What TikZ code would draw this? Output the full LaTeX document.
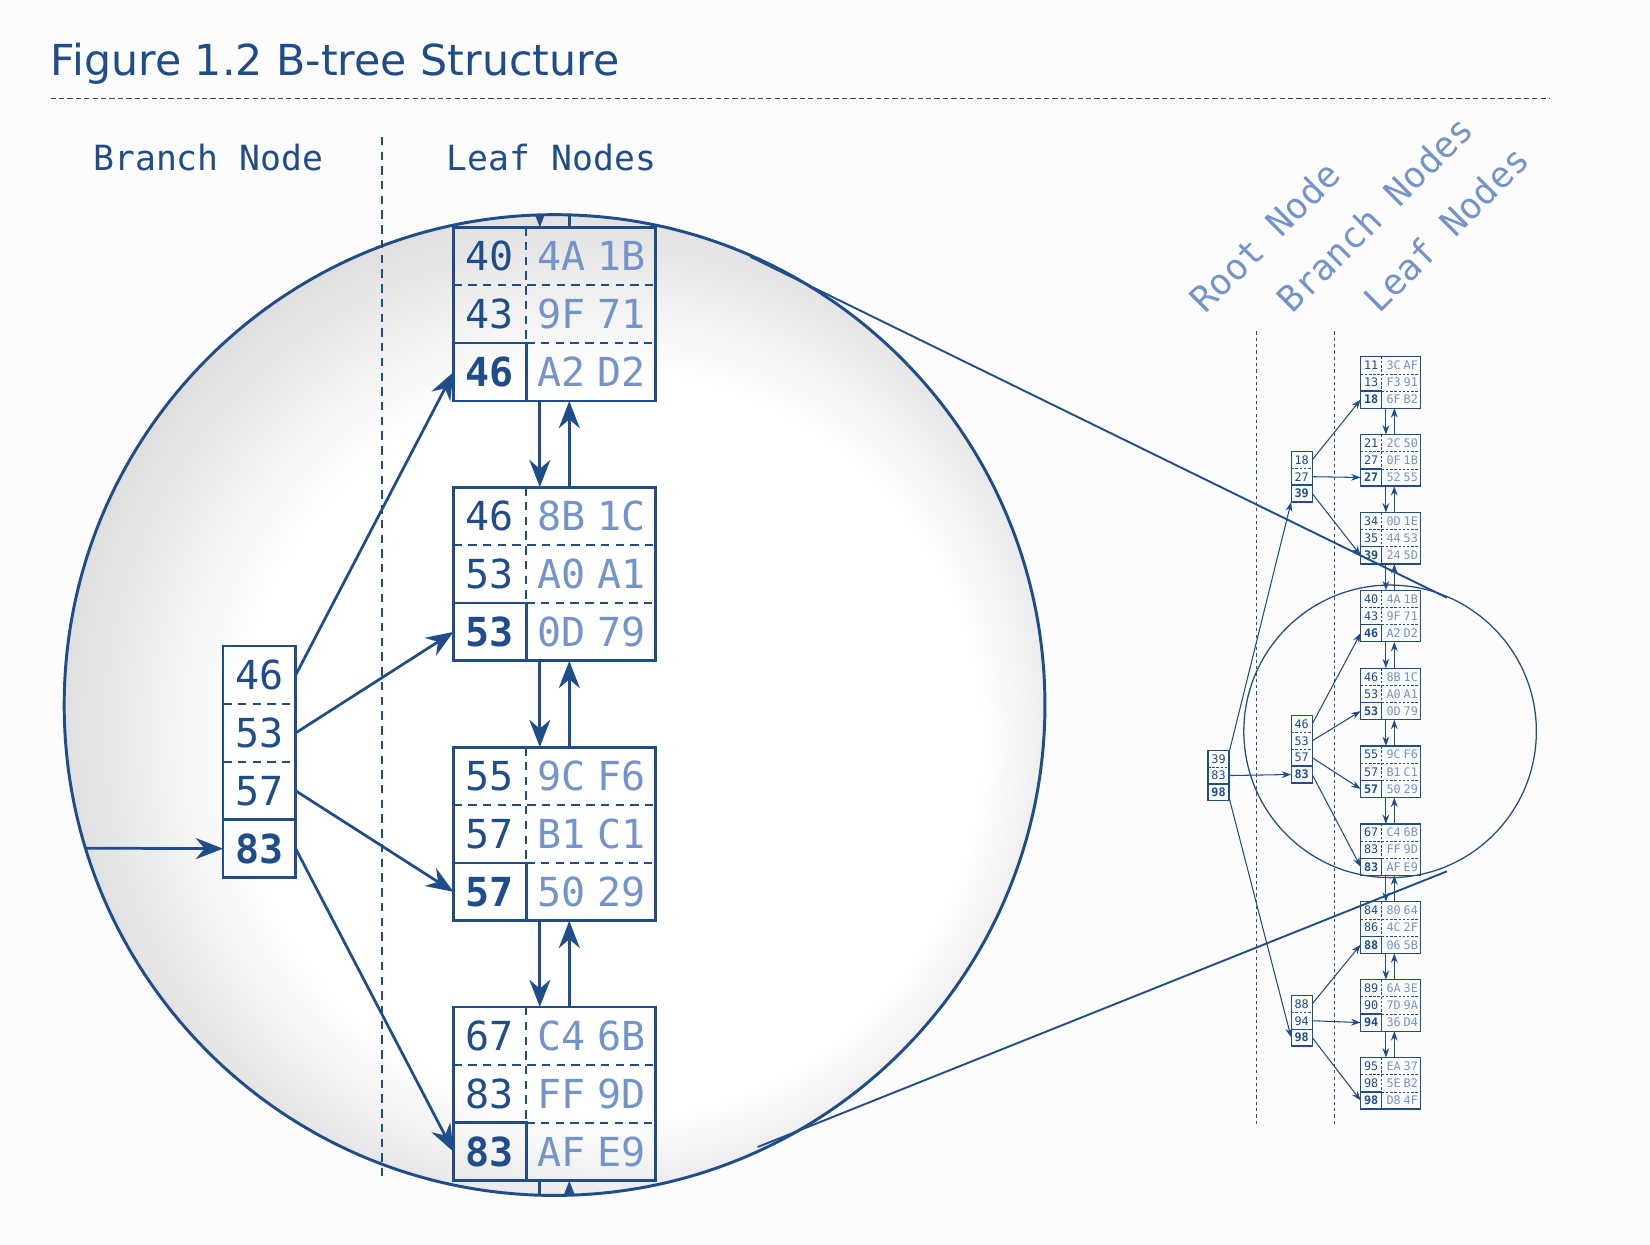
\documentclass[tikz,border=0pt]{standalone}
\usepackage{fontspec}
\setmainfont{DejaVu Sans}
\newfontfamily\mono{DejaVu Sans Mono}
\usetikzlibrary{arrows.meta,calc}
\definecolor{dk}{HTML}{1F4C8A}
\definecolor{lt}{HTML}{7393CB}
\definecolor{bg}{HTML}{FCFCFD}
\pgfdeclareradialshading{lens}{\pgfpoint{7bp}{-5bp}}{color(0bp)=(white);color(19bp)=(white);color(32bp)=(black!22)}
\newcommand\kf{}\newcommand\vf{}\newcommand\lw{}\newcommand\sw{}\newcommand\nb{}
\begin{document}
\begin{tikzpicture}[x=0.5pt,y=-0.5pt,
  key/.style={text=dk,inner sep=0pt,font=\kf},
  bkey/.style={text=dk,inner sep=0pt,font=\kf\bfseries},
  val/.style={text=lt,inner sep=0pt,font=\vf},
  sepd/.style={dash pattern=on 4pt off 3pt},
]
\fill[bg] (0,0) rectangle (1568,1183);
\useasboundingbox (0,0) rectangle (1568,1183);
\def\leaf#1#2#3#4#5#6#7#8#9{%
 \draw[line width=\lw] (#2,#3) rectangle (#2+\tw,#3+3*\rh);
 \draw[line width=\sw,sepd] (#2+\cw,#3) -- (#2+\cw,#3+2*\rh);
 \draw[line width=\sw,sepd] (#2,#3+\rh) -- (#2+\tw,#3+\rh);
 \draw[line width=\sw,sepd] (#2+\cw,#3+2*\rh) -- (#2+\tw,#3+2*\rh);
 \draw[line width=\lw] (#2,#3+2*\rh) -- (#2+\cw,#3+2*\rh) -- (#2+\cw,#3+3*\rh);
 \node[key] at (#2+\cw/2,#3+.5*\rh) {#4};
 \node[key] at (#2+\cw/2,#3+1.5*\rh) {#6};
 \node[bkey] (#1-k) at (#2+\cw/2,#3+2.5*\rh) {#8};
 \node[val] at (#2+\cw/2+\tw/2+1,#3+.5*\rh) {#5};
 \node[val] at (#2+\cw/2+\tw/2+1,#3+1.5*\rh) {#7};
 \node[val] at (#2+\cw/2+\tw/2+1,#3+2.5*\rh) {#9};
 \coordinate (#1-in) at (#2,#3+2.5*\rh);
 \coordinate (#1-top) at (#2,#3);
 \coordinate (#1-bot) at (#2,#3+3*\rh);
}
\def\branch#1#2#3#4#5{%
 \foreach \k [count=\i] in {#4} {
   \node[key] at (#2+\bw/2,#3+\i*\rh-.5*\rh) {\k};
   \coordinate (#1-\i) at (#2+\bw,#3+\i*\rh-.5*\rh);
   \draw[line width=\sw,sepd] (#2,#3+\i*\rh) -- (#2+\bw,#3+\i*\rh);
   \xdef\nb{\i}
 }
 \pgfmathtruncatemacro\nn{\nb+1}
 \node[bkey] at (#2+\bw/2,#3+\nn*\rh-.5*\rh) {#5};
 \coordinate (#1-\nn) at (#2+\bw,#3+\nn*\rh-.5*\rh);
 \coordinate (#1-w) at (#2,#3+\nn*\rh-.5*\rh);
 \coordinate (#1-sw) at (#2,#3+\nn*\rh);
 \draw[line width=\lw] (#2,#3+\nb*\rh) -- (#2+\bw,#3+\nb*\rh);
 \draw[line width=\lw] (#2,#3) rectangle (#2+\bw,#3+\nn*\rh);
}
\def\s{\kern.3em}
% ---------- title
\node[anchor=base west,text=dk,font=\fontsize{20.3pt}{22pt}\selectfont,inner sep=0] (title) at (48,72) {Figure 1.2 B-tree Structure};
\draw[dk,line width=0.5pt,dash pattern=on 2.5pt off 1.5pt] (48,94) -- (1473,94);
\node[text=dk,font=\mono\fontsize{16.5pt}{18pt}\selectfont,inner sep=0,anchor=base] (lb) at (198,162) {Branch Node};
\node[text=dk,font=\mono\fontsize{16.5pt}{18pt}\selectfont,inner sep=0,anchor=base] (ll) at (524,162) {Leaf Nodes};
% ---------- magnifier
\coordinate (C) at (527,670);
\shade[shading=lens] (C) circle (466);
\draw[dk,line width=1.2pt,dash pattern=on 4pt off 3pt] (363,130) -- (363,1122);
\def\kf{\mono\fontsize{19pt}{20pt}\selectfont}
\def\vf{\mono\fontsize{19pt}{20pt}\selectfont}
\def\lw{1.3pt}\def\sw{0.7pt}
\def\cw{69}\def\tw{192}\def\rh{55}\def\bw{69}
\begin{scope}[dk]
\leaf{L1}{431}{216}{40}{4A\s1B}{43}{9F\s71}{46}{A2\s D2}
\leaf{L2}{431}{463}{46}{8B\s1C}{53}{A0\s A1}{53}{0D\s79}
\leaf{L3}{431}{710}{55}{9C\s F6}{57}{B1\s C1}{57}{50\s29}
\leaf{L4}{431}{957}{67}{C4\s6B}{83}{FF\s9D}{83}{AF\s E9}
\branch{B}{212}{614}{46,53,57}{83}
\end{scope}
\tikzset{big/.style={dk,line width=1.3pt,-{Stealth[length=13pt,width=10pt]}}}
\draw[big] (B-1) -- (L1-in);
\draw[big] (B-2) -- (L2-in);
\draw[big] (B-3) -- (L3-in);
\draw[big] (B-4) -- (L4-in);
\coordinate (Bin) at (81,806);
\draw[big] (Bin) -- (B-w);
\foreach \a/\b in {L1/L2,L2/L3,L3/L4}{
  \draw[big] ($(\a-bot)+(82,0)$) -- ($(\b-top)+(82,0)$);
  \draw[big] ($(\b-top)+(110,0)$) -- ($(\a-bot)+(110,0)$);
}
\begin{scope}
\clip (C) circle (466);
\draw[big] ($(L1-top)+(82,-30)$) -- ($(L1-top)+(82,0)$);
\draw[dk,line width=1.3pt] ($(L1-top)+(110,0)$) -- ($(L1-top)+(110,-30)$);
\draw[dk,line width=1.3pt] ($(L4-bot)+(82,0)$) -- ($(L4-bot)+(82,30)$);
\draw[big] ($(L4-bot)+(110,30)$) -- ($(L4-bot)+(110,0)$);
\end{scope}
\draw[dk,line width=1.4pt] (C) circle (466);
% ---------- small overview
\coordinate (S) at (1321,695);
\draw[dk,line width=0.6pt] (S) circle (139);
\coordinate (ta) at (713,244); \coordinate (tb) at (1375,568);
\coordinate (ba) at (720,1090); \coordinate (bb) at (1375,828);
\draw[dk,line width=0.9pt] (ta) -- (tb);
\draw[dk,line width=0.9pt] (ba) -- (bb);
\draw[dk,line width=0.6pt,dash pattern=on 1.5pt off 1.5pt] (1194,315) -- (1194,1070);
\draw[dk,line width=0.6pt,dash pattern=on 1.5pt off 1.5pt] (1268,315) -- (1268,1070);
\foreach \t/\x/\n in {Root Node/1146/rn,Branch Nodes/1229/bn,Leaf Nodes/1311/ln}
  \node[rotate=45,anchor=south west,text=lt,inner sep=0,font=\mono\fontsize{17pt}{18pt}\selectfont] (\n) at (\x,300) {\t};
\def\kf{\mono\fontsize{5.6pt}{6pt}\selectfont}
\def\vf{\mono\fontsize{5.6pt}{6pt}\selectfont}
\def\lw{0.6pt}\def\sw{0.35pt}
\def\s{\kern.25em}
\tikzset{sepd/.style={dash pattern=on 1.2pt off 0.8pt}}
\def\cw{20}\def\tw{57}\def\rh{16.3}\def\bw{20}
\begin{scope}[dk]
\leaf{s1}{1293}{339}{11}{3C\s AF}{13}{F3\s91}{18}{6F\s B2}
\leaf{s2}{1293}{413}{21}{2C\s50}{27}{0F\s1B}{27}{52\s55}
\leaf{s3}{1293}{487}{34}{0D\s1E}{35}{44\s53}{39}{24\s5D}
\leaf{s4}{1293}{561}{40}{4A\s1B}{43}{9F\s71}{46}{A2\s D2}
\leaf{s5}{1293}{635}{46}{8B\s1C}{53}{A0\s A1}{53}{0D\s79}
\leaf{s6}{1293}{709}{55}{9C\s F6}{57}{B1\s C1}{57}{50\s29}
\leaf{s7}{1293}{783}{67}{C4\s6B}{83}{FF\s9D}{83}{AF\s E9}
\leaf{s8}{1293}{857}{84}{80\s64}{86}{4C\s2F}{88}{06\s5B}
\leaf{s9}{1293}{931}{89}{6A\s3E}{90}{7D\s9A}{94}{36\s D4}
\leaf{s10}{1293}{1005}{95}{EA\s37}{98}{5E\s B2}{98}{D8\s4F}
\def\rh{16}
\branch{b1}{1227}{429}{18,27}{39}
\branch{b2}{1227}{680}{46,53,57}{83}
\branch{b3}{1227}{946}{88,94}{98}
\branch{r}{1148}{713}{39,83}{98}
\end{scope}
\tikzset{sm/.style={dk,line width=0.5pt,-{Stealth[length=4.5pt,width=3.2pt]}}}
\draw[sm] (b1-1) -- (s1-in);
\draw[sm] (b1-2) -- (s2-in);
\draw[sm] (b1-3) -- (s3-in);
\draw[sm] (b2-1) -- (s4-in);
\draw[sm] (b2-2) -- (s5-in);
\draw[sm] (b2-3) -- (s6-in);
\draw[sm] (b2-4) -- (s7-in);
\draw[sm] (b3-1) -- (s8-in);
\draw[sm] (b3-2) -- (s9-in);
\draw[sm] (b3-3) -- (s10-in);
\draw[sm] ($(r-1)+(0,-6)$) -- (b1-sw);
\draw[sm] (r-2) -- (b2-w);
\draw[sm] ($(r-3)+(0,5)$) -- (b3-w);
\foreach \a/\b in {s1/s2,s2/s3,s3/s4,s4/s5,s5/s6,s6/s7,s7/s8,s8/s9,s9/s10}{
  \draw[sm] ($(\a-bot)+(24,0)$) -- ($(\b-top)+(24,0)$);
  \draw[sm] ($(\b-top)+(32,0)$) -- ($(\a-bot)+(32,0)$);
}
\end{tikzpicture}
\end{document}
